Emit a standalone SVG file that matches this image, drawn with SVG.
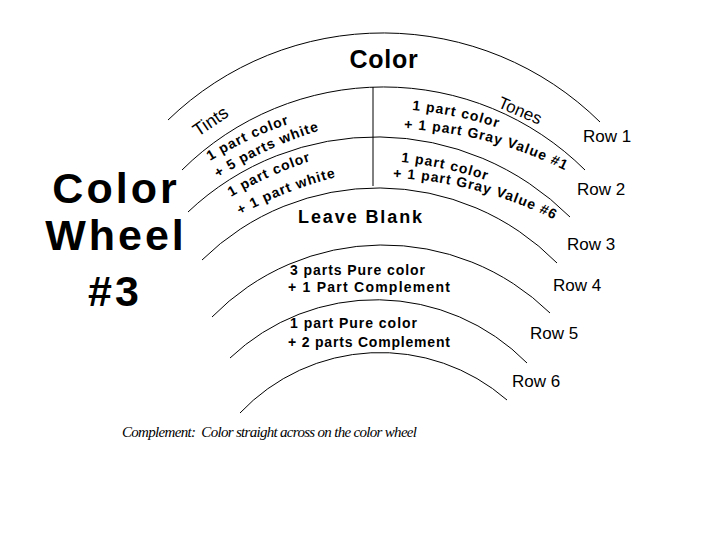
<svg xmlns="http://www.w3.org/2000/svg" width="720" height="540" viewBox="0 0 720 540">
<style>
.arc{fill:none;stroke:#000;stroke-width:1}
.b{font-family:"Liberation Sans",Arial,sans-serif;font-weight:bold;fill:#000}
.r{font-family:"Liberation Sans",Arial,sans-serif;fill:#000}
.ct{font-size:14px;letter-spacing:1px}
.row{font-size:17px}
.mid{font-size:14px}
</style>
<defs>
<path id="p1a" d="M210,161 A400,400 0 0 1 301,120"/>
<path id="p1b" d="M218,178 A400,400 0 0 1 331,127"/>
<path id="p2a" d="M231,197 A400,400 0 0 1 324,157"/>
<path id="p2b" d="M240,215 A400,400 0 0 1 350,174"/>
<path id="q1a" d="M412,110 A400,400 0 0 1 510,132"/>
<path id="q1b" d="M404,129 A400,400 0 0 1 580,178"/>
<path id="q2a" d="M401,162 A400,400 0 0 1 497,184"/>
<path id="q2b" d="M393,178 A400,400 0 0 1 570,228"/>
</defs>
<rect width="720" height="540" fill="#fff"/>
<g id="connectors">
<path class="arc" d="M168,120 A309,309 0 0 1 600,122"/>
<path class="arc" d="M182,170 A286,286 0 0 1 585,170"/>
<path class="arc" d="M188,212 A274,274 0 0 1 570,217"/>
<path class="arc" d="M202,260 A251,251 0 0 1 557,263"/>
<path class="arc" d="M212,317 A239,239 0 0 1 550,313"/>
<path class="arc" d="M230,358 A212,212 0 0 1 527,363"/>
<path class="arc" d="M240,413 A193,193 0 0 1 507,400"/>
<path class="arc" d="M373,87 L373,186"/>
</g>
<g id="title">
<text class="b" x="384" y="68" font-size="25" text-anchor="middle" letter-spacing="0.7">Color</text>
</g>
<g id="wheel-title">
<text class="b" font-size="43" letter-spacing="3" text-anchor="middle"><tspan x="116" y="203">Color</tspan><tspan x="116" y="250">Wheel</tspan><tspan x="115" y="306">#3</tspan></text>
</g>
<g id="tints">
<text class="r" x="198" y="137" font-size="18" transform="rotate(-34 198 137)">Tints</text>
<text class="b ct"><textPath href="#p1a">1 part color</textPath></text>
<text class="b ct"><textPath href="#p1b">+ 5 parts white</textPath></text>
<text class="b ct"><textPath href="#p2a">1 part color</textPath></text>
<text class="b ct"><textPath href="#p2b">+ 1 part white</textPath></text>
</g>
<g id="tones">
<text class="r" x="497" y="107" font-size="17" transform="rotate(23 497 107)">Tones</text>
<text class="b ct"><textPath href="#q1a">1 part color</textPath></text>
<text class="b ct"><textPath href="#q1b">+ 1 part Gray Value #1</textPath></text>
<text class="b ct"><textPath href="#q2a">1 part color</textPath></text>
<text class="b ct"><textPath href="#q2b">+ 1 part Gray Value #6</textPath></text>
</g>
<g id="row3">
<text class="b" x="298" y="223" font-size="18" letter-spacing="1.9">Leave Blank</text>
</g>
<g id="row4">
<text class="b mid" x="290" y="275" textLength="135">3 parts Pure color</text>
<text class="b mid" x="288" y="292" textLength="162">+ 1 Part Complement</text>
</g>
<g id="row5">
<text class="b mid" x="290" y="328" textLength="127">1 part Pure color</text>
<text class="b mid" x="288" y="347" textLength="162">+ 2 parts Complement</text>
</g>
<g id="row-labels">
<text class="r row" x="583" y="142">Row 1</text>
<text class="r row" x="577" y="195">Row 2</text>
<text class="r row" x="567" y="250">Row 3</text>
<text class="r row" x="553" y="291">Row 4</text>
<text class="r row" x="530" y="339">Row 5</text>
<text class="r row" x="512" y="387">Row 6</text>
</g>
<g id="note">
<text x="122" y="437" font-family="'Liberation Serif',serif" font-style="italic" font-size="15" textLength="295" xml:space="preserve">Complement:  Color straight across on the color wheel</text>
</g>
</svg>
